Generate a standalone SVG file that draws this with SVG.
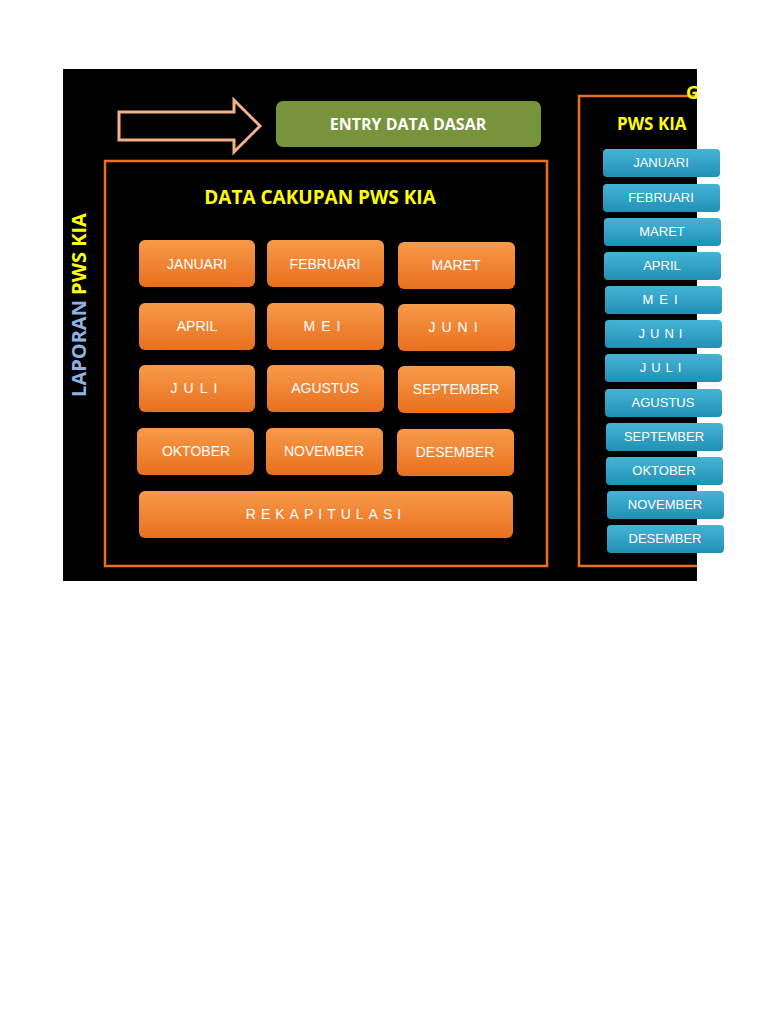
<svg xmlns="http://www.w3.org/2000/svg" width="768" height="1024" viewBox="0 0 768 1024">
<defs>
<linearGradient id="og" x1="0" y1="0" x2="0" y2="1"><stop offset="0" stop-color="#f79a4a"/><stop offset="1" stop-color="#e8701e"/></linearGradient>
<linearGradient id="bg" x1="0" y1="0" x2="0" y2="1"><stop offset="0" stop-color="#44b4d6"/><stop offset="1" stop-color="#2190b5"/></linearGradient>
</defs>
<style>
.o{fill:url(#og)}
.b{fill:url(#bg)}
.t{font-family:"Liberation Sans",Arial,sans-serif;font-size:14px;fill:#fff;text-anchor:middle}
.ts{font-family:"Liberation Sans",Arial,sans-serif;font-size:13px;fill:#fff;text-anchor:middle}
.y{font-family:"Open Sans","DejaVu Sans",sans-serif;font-weight:bold;fill:#ffff00}
.frame{fill:none;stroke:#e8701e;stroke-width:2.5}
</style>
<rect x="0" y="0" width="768" height="1024" fill="#fff"/>
<rect x="63" y="69" width="634" height="512" fill="#000"/>
<g id="arrow"><path d="M119,112 H234 V100 L260,126 L234,152 V140 H119 Z" fill="none" stroke="#f4b183" stroke-width="3"/></g>
<g id="entry"><rect x="276" y="101" width="265" height="46" rx="7" fill="#77933c"/><text x="408" y="130" font-family="Open Sans,DejaVu Sans,sans-serif" font-weight="bold" font-size="16" fill="#fff" text-anchor="middle">ENTRY DATA DASAR</text></g>
<g id="sidetitle"><text transform="translate(86,305) rotate(-90)" font-family="Open Sans,DejaVu Sans,sans-serif" font-weight="bold" font-size="20" text-anchor="middle"><tspan fill="#8db3e2">LAPORAN </tspan><tspan fill="#ffff00">PWS KIA</tspan></text></g>
<g id="main"><rect class="frame" x="105" y="161" width="442" height="405"/>
<text class="y" x="320" y="204" font-size="19" text-anchor="middle">DATA CAKUPAN PWS KIA</text></g>
<g id="m1"><rect class="o" x="139" y="240" width="116" height="47" rx="6"/><text class="t" x="197" y="269">JANUARI</text></g>
<g id="m2"><rect class="o" x="267" y="240" width="117" height="47" rx="6"/><text class="t" x="325" y="269">FEBRUARI</text></g>
<g id="m3"><rect class="o" x="398" y="242" width="117" height="47" rx="6"/><text class="t" x="456" y="270">MARET</text></g>
<g id="m4"><rect class="o" x="139" y="303" width="116" height="47" rx="6"/><text class="t" x="197" y="331">APRIL</text></g>
<g id="m5"><rect class="o" x="267" y="303" width="117" height="47" rx="6"/><text class="t" x="325" y="331" letter-spacing="6">MEI</text></g>
<g id="m6"><rect class="o" x="398" y="304" width="117" height="47" rx="6"/><text class="t" x="456" y="332" letter-spacing="6">JUNI</text></g>
<g id="m7"><rect class="o" x="139" y="365" width="116" height="47" rx="6"/><text class="t" x="197" y="393" letter-spacing="6">JULI</text></g>
<g id="m8"><rect class="o" x="267" y="365" width="117" height="47" rx="6"/><text class="t" x="325" y="393">AGUSTUS</text></g>
<g id="m9"><rect class="o" x="398" y="366" width="117" height="47" rx="6"/><text class="t" x="456" y="394">SEPTEMBER</text></g>
<g id="m10"><rect class="o" x="137" y="428" width="117" height="47" rx="6"/><text class="t" x="196" y="456">OKTOBER</text></g>
<g id="m11"><rect class="o" x="266" y="428" width="117" height="47" rx="6"/><text class="t" x="324" y="456">NOVEMBER</text></g>
<g id="m12"><rect class="o" x="397" y="429" width="117" height="47" rx="6"/><text class="t" x="455" y="457">DESEMBER</text></g>
<g id="rekap"><rect class="o" x="139" y="491" width="374" height="47" rx="6"/><text class="t" x="326" y="519" letter-spacing="5">REKAPITULASI</text></g>
<g id="right"><path class="frame" d="M697,96 H579 V566 H697"/>
<text class="y" x="686" y="99" font-size="18">G</text>
<text class="y" x="617" y="130" font-size="17">PWS KIA</text></g>
<g id="r1"><rect class="b" x="603" y="149" width="117" height="28" rx="4"/><text class="ts" x="661" y="167">JANUARI</text></g>
<g id="r2"><rect class="b" x="603" y="184" width="117" height="28" rx="4"/><text class="ts" x="661" y="202">FEBRUARI</text></g>
<g id="r3"><rect class="b" x="604" y="218" width="117" height="28" rx="4"/><text class="ts" x="662" y="236">MARET</text></g>
<g id="r4"><rect class="b" x="604" y="252" width="117" height="28" rx="4"/><text class="ts" x="662" y="270">APRIL</text></g>
<g id="r5"><rect class="b" x="605" y="286" width="117" height="28" rx="4"/><text class="ts" x="663" y="304" letter-spacing="6">MEI</text></g>
<g id="r6"><rect class="b" x="605" y="320" width="117" height="28" rx="4"/><text class="ts" x="663" y="338" letter-spacing="5">JUNI</text></g>
<g id="r7"><rect class="b" x="605" y="354" width="117" height="28" rx="4"/><text class="ts" x="663" y="372" letter-spacing="5">JULI</text></g>
<g id="r8"><rect class="b" x="605" y="389" width="117" height="28" rx="4"/><text class="ts" x="663" y="407">AGUSTUS</text></g>
<g id="r9"><rect class="b" x="606" y="423" width="117" height="28" rx="4"/><text class="ts" x="664" y="441">SEPTEMBER</text></g>
<g id="r10"><rect class="b" x="606" y="457" width="117" height="28" rx="4"/><text class="ts" x="664" y="475">OKTOBER</text></g>
<g id="r11"><rect class="b" x="607" y="491" width="117" height="28" rx="4"/><text class="ts" x="665" y="509">NOVEMBER</text></g>
<g id="r12"><rect class="b" x="607" y="525" width="117" height="28" rx="4"/><text class="ts" x="665" y="543">DESEMBER</text></g>
</svg>
